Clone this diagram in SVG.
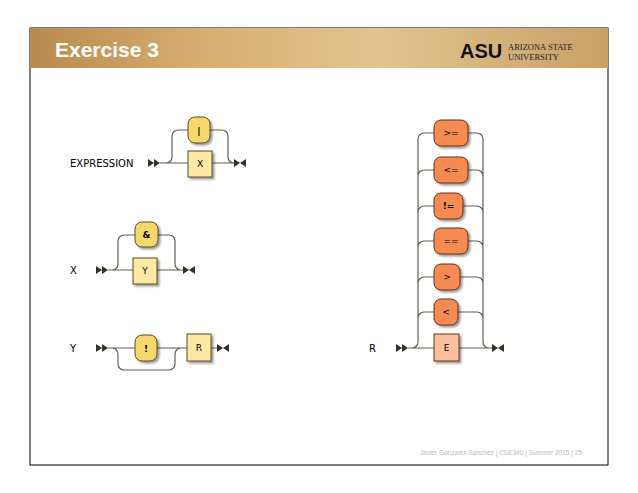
<svg xmlns="http://www.w3.org/2000/svg" width="638" height="493" viewBox="0 0 638 493">
<defs>
<linearGradient id="hdr" x1="0" y1="0" x2="1" y2="0"><stop offset="0" stop-color="#b98a4e"/><stop offset="0.3" stop-color="#d7ae72"/><stop offset="0.6" stop-color="#e2c48e"/><stop offset="1" stop-color="#c9a068"/></linearGradient>
<filter id="sh" x="-20%" y="-20%" width="150%" height="150%"><feDropShadow dx="2" dy="2" stdDeviation="1" flood-color="#000" flood-opacity="0.4"/></filter>
</defs>
<style>
.t{font-family:"DejaVu Sans",sans-serif;font-size:10px;fill:#000}
.l{fill:none;stroke:#665e50;stroke-width:1.2}
.y{fill:#f5d76a;stroke:#5a4a20;stroke-width:1;filter:url(#sh)}
.yb{fill:#fce9a6;stroke:#5a4a20;stroke-width:1;filter:url(#sh)}
.o{fill:#f58a52;stroke:#6a3010;stroke-width:1;filter:url(#sh)}
.ob{fill:#fbbf9e;stroke:#6a3010;stroke-width:1;filter:url(#sh)}
.k{font-family:"DejaVu Sans",sans-serif;font-size:9px;text-anchor:middle}
.m{fill:#332}
</style>
<rect width="638" height="493" fill="#fff"/>
<rect x="30" y="28" width="578" height="437" fill="#fff" stroke="#000" stroke-width="1"/>
<rect x="30" y="28" width="578" height="40" fill="url(#hdr)"/>
<text x="55" y="57" font-family="Liberation Sans,Arial,sans-serif" font-weight="bold" font-size="21" fill="#fff">Exercise 3</text>
<text x="460" y="58" font-family="Liberation Sans,sans-serif" font-weight="bold" font-size="20" fill="#111">ASU</text>
<text x="508" y="50" font-family="Liberation Serif,serif" font-size="8.5" fill="#222">ARIZONA STATE</text>
<text x="508" y="60" font-family="Liberation Serif,serif" font-size="8.5" fill="#222">UNIVERSITY</text>
<text x="582" y="455" text-anchor="end" font-family="Liberation Sans,sans-serif" font-size="6.5" fill="#bbb">Javier Gonzalez-Sanchez  |  CSE340  |  Summer 2015  |  25</text>

<g id="connectors">
<path class="l" d="M160,163 H188 M212,163 H234 M166,163 a6,6 0 0 0 6,-6 v-21 a6,6 0 0 1 6,-6 h10 M210,130 h12 a6,6 0 0 1 6,6 v21 a6,6 0 0 0 6,6"/>
<path class="l" d="M108,270 H133 M157,270 H183 M112,270 a6,6 0 0 0 6,-6 v-23 a6,6 0 0 1 6,-6 h12 M158,235 h11 a6,6 0 0 1 6,6 v23 a6,6 0 0 0 6,6"/>
<path class="l" d="M108,348 H135 M157,348 H187 M211,348 H217 M112,348 a6,6 0 0 1 6,6 v10 a6,6 0 0 0 6,6 h45 a6,6 0 0 0 6,-6 v-10 a6,6 0 0 1 6,-6"/>
<path class="l" d="M408,348 H434 M459,348 H492 M412,348 a6,6 0 0 0 6,-6 V139 a6,6 0 0 1 6,-6 h10 M468,133 h9 a6,6 0 0 1 6,6 V342 a6,6 0 0 0 6,6 M418,176 a6,6 0 0 1 6,-6 h10 M468,170 h9 a6,6 0 0 1 6,6 M418,212 a6,6 0 0 1 6,-6 h10 M463,206 h14 a6,6 0 0 1 6,6 M418,247 a6,6 0 0 1 6,-6 h10 M468,241 h9 a6,6 0 0 1 6,6 M418,283 a6,6 0 0 1 6,-6 h10 M460,277 h17 a6,6 0 0 1 6,6 M418,318 a6,6 0 0 1 6,-6 h10 M458,312 h19 a6,6 0 0 1 6,6"/>
<g class="m">
<path d="M148,159 l6,4 l-6,4 z M154,159 l6,4 l-6,4 z M234,159 l6,4 l-6,4 z M246,159 l-6,4 l6,4 z"/>
<path d="M96,266 l6,4 l-6,4 z M102,266 l6,4 l-6,4 z M183,266 l6,4 l-6,4 z M195,266 l-6,4 l6,4 z"/>
<path d="M96,344 l6,4 l-6,4 z M102,344 l6,4 l-6,4 z M217,344 l6,4 l-6,4 z M229,344 l-6,4 l6,4 z"/>
<path d="M396,344 l6,4 l-6,4 z M402,344 l6,4 l-6,4 z M492,344 l6,4 l-6,4 z M504,344 l-6,4 l6,4 z"/>
</g>
</g>

<text class="t" x="70" y="167">EXPRESSION</text>
<text class="t" x="70" y="274">X</text>
<text class="t" x="70" y="352">Y</text>
<text class="t" x="369" y="352">R</text>

<g id="n-pipe"><rect class="y" x="188" y="117" width="22" height="26" rx="7"/><text class="k" x="199" y="134" font-weight="bold">|</text></g>
<g id="n-x"><rect class="yb" x="188" y="151" width="24" height="26"/><text class="k" x="200" y="167">X</text></g>
<g id="n-amp"><rect class="y" x="135" y="222" width="23" height="25" rx="7"/><text class="k" x="146.5" y="238" font-weight="bold">&amp;</text></g>
<g id="n-y"><rect class="yb" x="133" y="258" width="24" height="26"/><text class="k" x="145" y="274">Y</text></g>
<g id="n-not"><rect class="y" x="135" y="335" width="22" height="26" rx="7"/><text class="k" x="146" y="352" font-weight="bold">!</text></g>
<g id="n-r"><rect class="yb" x="187" y="334" width="24" height="27"/><text class="k" x="199" y="351">R</text></g>

<g id="n-ge"><rect class="o" x="434" y="120" width="34" height="26" rx="7"/><text class="k" x="451" y="136">&gt;=</text></g>
<g id="n-le"><rect class="o" x="434" y="157" width="34" height="26" rx="7"/><text class="k" x="451" y="173">&lt;=</text></g>
<g id="n-ne"><rect class="o" x="434" y="193" width="29" height="26" rx="7"/><text class="k" x="448.5" y="209" font-weight="bold">!=</text></g>
<g id="n-eq"><rect class="o" x="434" y="228" width="34" height="26" rx="7"/><text class="k" x="451" y="244">==</text></g>
<g id="n-gt"><rect class="o" x="434" y="264" width="26" height="26" rx="7"/><text class="k" x="447" y="280">&gt;</text></g>
<g id="n-lt"><rect class="o" x="434" y="299" width="24" height="26" rx="7"/><text class="k" x="446" y="315">&lt;</text></g>
<g id="n-e"><rect class="ob" x="434" y="334" width="25" height="27"/><text class="k" x="446.5" y="351">E</text></g>
</svg>
